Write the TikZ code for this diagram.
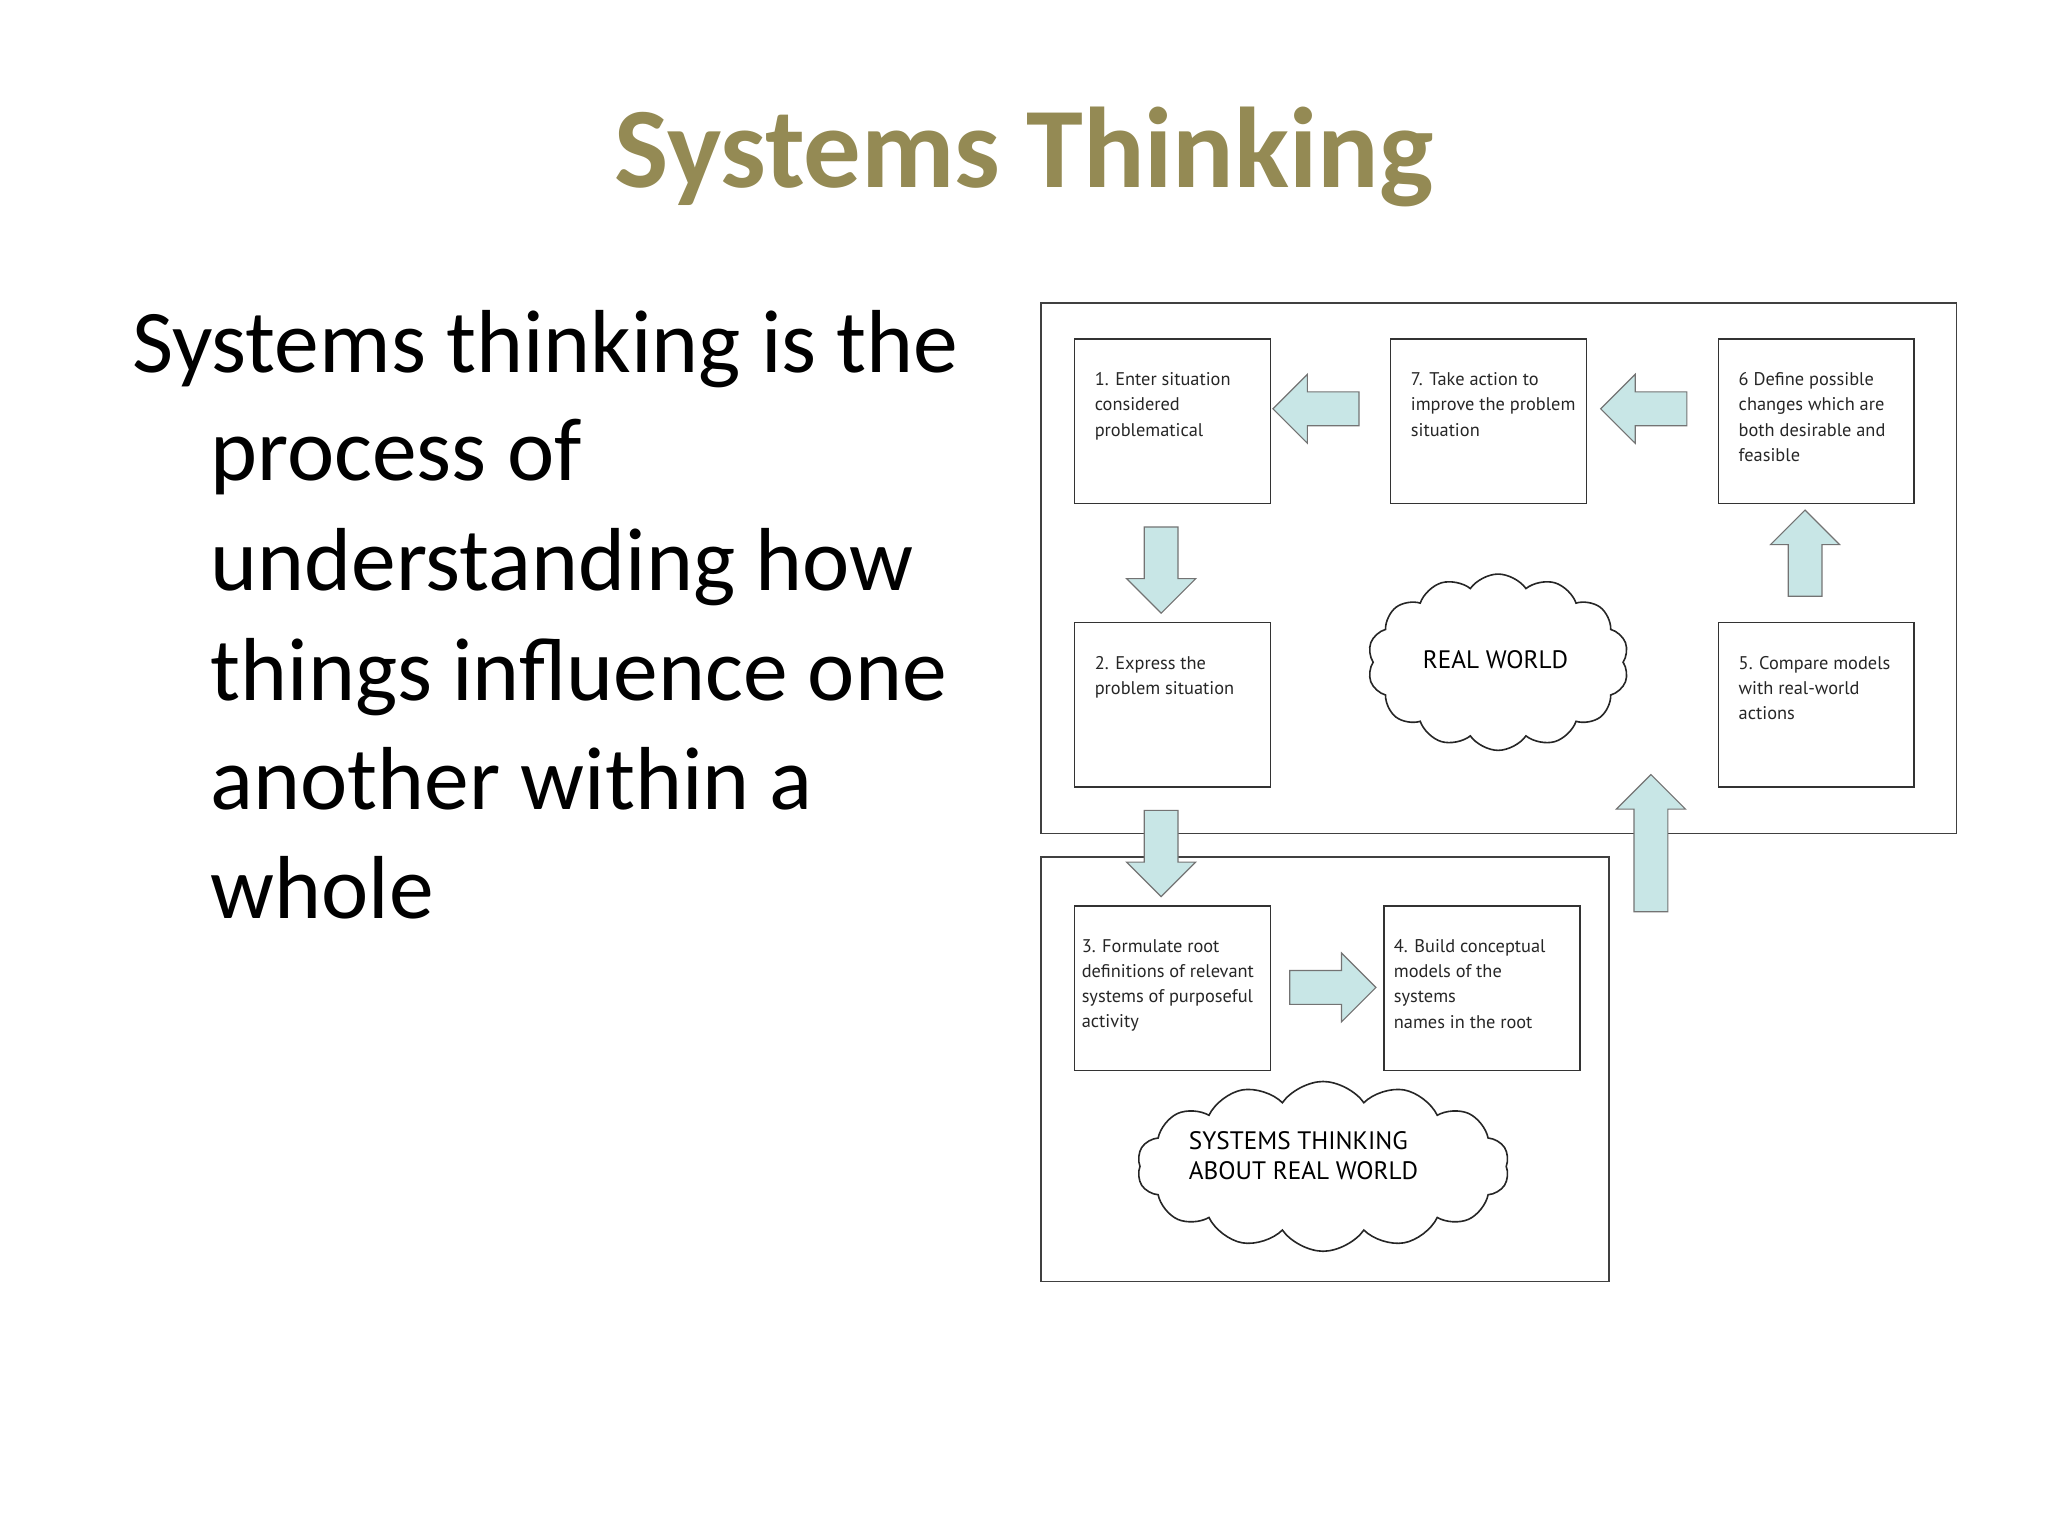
\documentclass[tikz,border=0pt]{standalone}
\usepackage{fontspec}
\setmainfont{Carlito}
\newfontfamily\boxfont{PT Sans}
\usetikzlibrary{shapes.arrows,shapes.symbols}
\definecolor{olive}{HTML}{948A54}
\definecolor{arr}{HTML}{C8E6E6}
\tikzset{
 frame/.style={draw=black!75, line width=0.6pt},
 stepbox/.style={draw=black!80, line width=0.7pt, minimum width=3cm, minimum height=2.52cm, anchor=north west, inner sep=0pt},
 boxtxt/.style={anchor=north west, align=left, font=\boxfont\fontsize{8}{11}\selectfont, text=black!85},
 bigarrow/.style={single arrow, draw=black!55, fill=arr, line width=0.5pt, inner sep=0.25cm, single arrow head extend=0.27cm, minimum height=1.32cm},
 cloudy/.style={cloud, cloud puffs=14, cloud puff arc=110, draw=black!85, line width=0.7pt, aspect=1.6},
 body/.style={anchor=base west, font=\fontsize{39}{46}\selectfont}
}
\begin{document}
\begin{tikzpicture}[x=0.02cm,y=-0.02cm]
\useasboundingbox (0,0) rectangle (1568,1176);
\node[text=olive, font=\bfseries\fontsize{50}{58}\selectfont] (title) at (784,120) {Systems Thinking};
\node[body] (l1) at (95,285) {Systems thinking is the};
\node[body] (l2) at (155,368) {process of};
\node[body] (l3) at (155,452) {understanding how};
\node[body] (l4) at (155,536) {things influence one};
\node[body] (l5) at (155,620) {another within a};
\node[body] (l6) at (155,703) {whole};
\draw[frame] (797,232) rectangle (1498,638);
\draw[frame] (797,656) rectangle (1232,981);
\node[stepbox] (b1) at (822,259) {};
\node[stepbox] (b7) at (1064,259) {};
\node[stepbox] (b6) at (1315,259) {};
\node[stepbox] (b2) at (822,476) {};
\node[stepbox] (b5) at (1315,476) {};
\node[stepbox] (b3) at (822,693) {};
\node[stepbox] (b4) at (1059,693) {};
\node[boxtxt] (t1) at (832,279) {1. Enter situation\\considered\\problematical};
\node[boxtxt] (t7) at (1074,279) {7. Take action to\\improve the problem\\situation};
\node[boxtxt] (t6) at (1325,279) {6 Define possible\\changes which are\\both desirable and\\feasible};
\node[boxtxt] (t2) at (832,496) {2. Express the\\problem situation};
\node[boxtxt] (t5) at (1325,496) {5. Compare models\\with real-world\\actions};
\node[boxtxt] (t3) at (822,713) {3. Formulate root\\definitions of relevant\\systems of purposeful\\activity};
\node[boxtxt] (t4) at (1061,713) {4. Build conceptual\\models of the\\systems\\names in the root};
\node[bigarrow, shape border rotate=180] (a71) at (1014,313) {};
\node[bigarrow, shape border rotate=180] (a67) at (1265,313) {};
\node[bigarrow, shape border rotate=270] (a12) at (889,430) {};
\node[bigarrow, shape border rotate=270] (a23) at (889,647) {};
\node[bigarrow, shape border rotate=0] (a34) at (1014,756) {};
\node[bigarrow, shape border rotate=90] (a56) at (1382,430) {};
\node[bigarrow, shape border rotate=49, minimum height=2.1cm] (a45) at (1264,652) {};
\node[cloudy, minimum width=4cm, minimum height=2.7cm] (c1) at (1147,507) {};
\node[font=\boxfont\fontsize{11}{13}\selectfont] (c1t) at (1145,505) {REAL WORLD};
\node[cloudy, minimum width=5.7cm, minimum height=2.6cm] (c2) at (1013,893) {};
\node[font=\boxfont\fontsize{11}{13}\selectfont, align=left] (c2t) at (998,885) {SYSTEMS THINKING\\ABOUT REAL WORLD};
\end{tikzpicture}
\end{document}
